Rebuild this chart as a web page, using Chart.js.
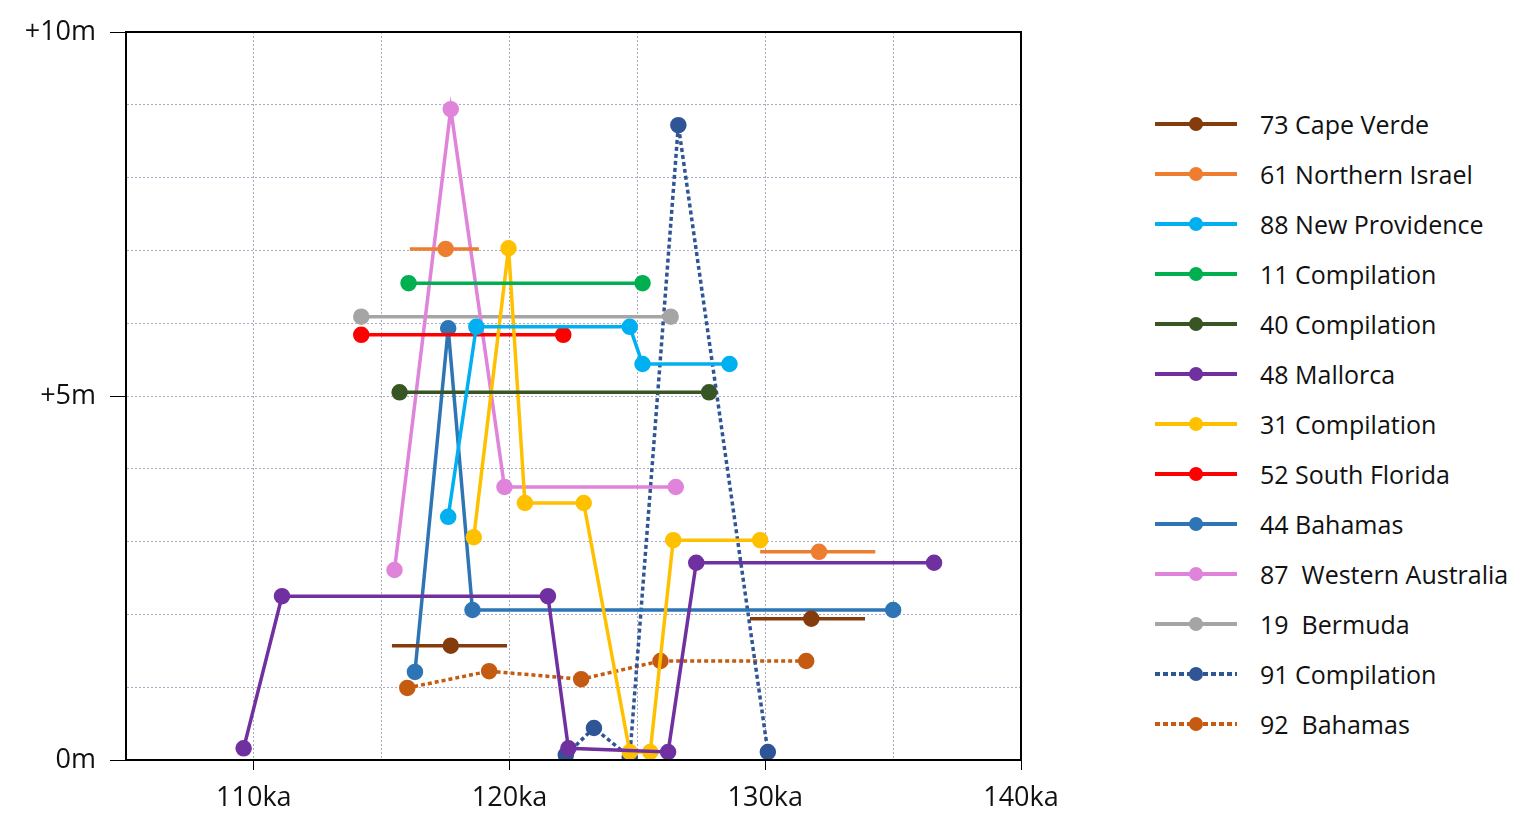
<!DOCTYPE html>
<html>
<head>
<meta charset="utf-8">
<script src="https://cdn.jsdelivr.net/npm/chart.js@4"></script>
<style>
body { margin: 0; background: #fff; font-family: 'Open Sans', sans-serif; }
#box { position: absolute; left: 0; top: 0; width: 1090px; height: 839px; }
#legend { position: absolute; left: 1155px; top: 99px; }
.item { height: 50px; display: flex; align-items: center; font-size: 25px; color: #111; white-space: pre; }
.sw { position: relative; width: 82px; height: 4px; margin-right: 23px; }
.sw i { position: absolute; left: 34px; top: -5px; width: 14px; height: 14px; border-radius: 50%; }
</style>
</head>
<body>
<div id="box"><canvas id="chart"></canvas></div>
<div id="legend"></div>
<script>
// values, age in ka, height in m; null splits segments
const capeVerde = [[115.4, 1.57], [117.7, 1.57], [119.9, 1.57], [125, null], [129.4, 1.94], [131.8, 1.94], [133.9, 1.94]];
const northernIsrael = [[116.1, 7.02], [117.5, 7.02], [118.8, 7.02], [125, null], [129.8, 2.86], [132.1, 2.86], [134.3, 2.86]];
const newProvidence = [[117.6, 3.34], [118.7, 5.95], [124.7, 5.95], [125.2, 5.44], [128.6, 5.44]];
const compilation11 = [[116.05, 6.55], [125.2, 6.55]];
const compilation40 = [[115.7, 5.05], [127.8, 5.05]];
const mallorca = [[109.6, 0.16], [111.1, 2.25], [121.5, 2.25], [122.3, 0.16], [126.2, 0.11], [127.3, 2.71], [136.6, 2.71]];
const compilation31 = [[118.6, 3.06], [119.96, 7.03], [120.6, 3.53], [122.9, 3.53], [124.7, 0.11], [125.5, 0.11], [126.4, 3.02], [129.8, 3.02]];
const southFlorida = [[114.2, 5.84], [122.1, 5.84]];
const bahamas44 = [[116.3, 1.21], [117.6, 5.93], [118.55, 2.06], [135.0, 2.06]];
const westernAustralia = [[115.5, 2.61], [117.7, 8.94], [119.8, 3.75], [126.5, 3.75]];
const bermuda = [[114.2, 6.09], [126.3, 6.09]];
const compilation91 = [[122.2, 0.07], [123.3, 0.44], [124.7, 0.04], [126.6, 8.72], [130.1, 0.11]];
const bahamas92 = [[116.0, 0.99], [119.2, 1.22], [122.8, 1.11], [125.9, 1.36], [131.6, 1.36]];

const series = [
	{ label: '73 Cape Verde', data: capeVerde, color: '#843C0C', bars: true },
	{ label: '61 Northern Israel', data: northernIsrael, color: '#ED7D31', bars: true },
	{ label: '88 New Providence', data: newProvidence, color: '#00B0F0' },
	{ label: '11 Compilation', data: compilation11, color: '#00B050' },
	{ label: '40 Compilation', data: compilation40, color: '#375623' },
	{ label: '48 Mallorca', data: mallorca, color: '#7030A0' },
	{ label: '31 Compilation', data: compilation31, color: '#FFC000' },
	{ label: '52 South Florida', data: southFlorida, color: '#FF0000' },
	{ label: '44 Bahamas', data: bahamas44, color: '#2E75B6' },
	{ label: '87  Western Australia', data: westernAustralia, color: '#E083DA' },
	{ label: '19  Bermuda', data: bermuda, color: '#A5A5A5' },
	{ label: '91 Compilation', data: compilation91, color: '#2F5597', dotted: true },
	{ label: '92  Bahamas', data: bahamas92, color: '#C55A11', dotted: true },
];

const datasets = series.map((s) => ({
	label: s.label,
	data: s.data.map((p) => ({ x: p[0], y: p[1] })),
	borderColor: s.color,
	backgroundColor: s.color,
	borderWidth: 3.5,
	borderDash: s.dotted ? [4, 3] : [],
	pointRadius: s.bars ? s.data.map((p, i) => (i % 4 === 1 ? 6.5 : 0)) : 6.5,
	pointHoverRadius: 6.5,
	spanGaps: false,
	tension: 0,
}));

const legend = document.getElementById('legend');
series.forEach((s) => {
	const row = document.createElement('div');
	row.className = 'item';
	const line = s.dotted
		? `background: repeating-linear-gradient(90deg, ${s.color} 0 5px, transparent 5px 8px);`
		: `background: ${s.color};`;
	row.innerHTML = `<div class="sw" style="${line}"><i style="background:${s.color}"></i></div><span>${s.label}</span>`;
	legend.appendChild(row);
});

const frame = {
	id: 'frame',
	afterDraw(chart) {
		const a = chart.chartArea;
		const ctx = chart.ctx;
		ctx.save();
		ctx.strokeStyle = '#000';
		ctx.lineWidth = 2;
		ctx.strokeRect(a.left, a.top, a.right - a.left, a.bottom - a.top);
		ctx.restore();
	},
};

const tickFont = { family: 'Open Sans', size: 27 };

new Chart(document.getElementById('chart'), {
	type: 'line',
	data: { datasets },
	plugins: [frame],
	options: {
		responsive: true,
		maintainAspectRatio: false,
		animation: false,
		layout: { padding: { left: 0, right: 69, top: 32, bottom: 0 } },
		plugins: { legend: { display: false }, tooltip: { enabled: false } },
		scales: {
			x: {
				type: 'linear',
				min: 105,
				max: 140,
				afterFit: (s) => { s.height = 79; },
				ticks: {
					stepSize: 5,
					color: '#111',
					font: tickFont,
					padding: 12,
					maxRotation: 0,
					callback: (v) => (v % 10 === 0 ? v + 'ka' : ''),
				},
				grid: {
					color: '#a9a9c0',
					lineWidth: 1,
					tickLength: 10,
					tickColor: (c) => (c.tick && c.tick.value % 10 === 0 ? '#000' : 'rgba(0,0,0,0)'),
				},
				border: { display: true, color: '#000', width: 2, dash: [2, 2] },
			},
			y: {
				min: 0,
				max: 10,
				afterFit: (s) => { s.width = 126; },
				ticks: {
					stepSize: 1,
					color: '#111',
					font: tickFont,
					padding: 14,
					callback: (v) => (v === 0 ? '0m' : v % 5 === 0 ? '+' + v + 'm' : ''),
				},
				grid: {
					color: '#a9a9c0',
					lineWidth: 1,
					tickLength: 16,
					tickColor: (c) => (c.tick && c.tick.value % 5 === 0 ? '#000' : 'rgba(0,0,0,0)'),
				},
				border: { display: true, color: '#000', width: 2, dash: [2, 2] },
			},
		},
	},
});
</script>
</body>
</html>
